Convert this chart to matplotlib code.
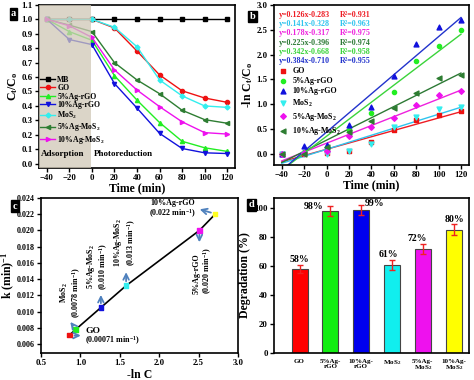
import matplotlib
matplotlib.use('Agg')
import matplotlib.pyplot as plt

plt.rcParams['font.family'] = ['Liberation Serif', 'DejaVu Serif']
plt.rcParams['font.weight'] = 'bold'
plt.rcParams['axes.labelweight'] = 'bold'
plt.rcParams['mathtext.fontset'] = 'custom'
plt.rcParams['mathtext.rm'] = 'Liberation Serif:bold'
plt.rcParams['mathtext.it'] = 'Liberation Serif:italic:bold'
plt.rcParams['mathtext.bf'] = 'Liberation Serif:bold'
plt.rcParams['mathtext.default'] = 'rm'

# ---- data ----
time_min = [-40, -20, 0, 20, 40, 60, 80, 100, 120]

# panel a : Ct/C0
ct_mb = [1.0, 1.0, 1.0, 1.0, 1.0, 1.0, 1.0, 1.0, 1.0]
ct_go = [1.0, 1.0, 1.0, 0.94, 0.78, 0.615, 0.505, 0.455, 0.425]
ct_5ag_rgo = [1.0, 0.915, 0.855, 0.61, 0.44, 0.285, 0.155, 0.11, 0.085]
ct_10ag_rgo = [1.0, 0.86, 0.825, 0.555, 0.385, 0.21, 0.105, 0.075, 0.07]
ct_mos2 = [1.0, 1.0, 1.0, 0.945, 0.81, 0.58, 0.47, 0.40, 0.39]
ct_5ag_mos2 = [1.0, 0.96, 0.915, 0.70, 0.58, 0.485, 0.37, 0.305, 0.28]
ct_10ag_mos2 = [1.0, 0.955, 0.875, 0.65, 0.51, 0.395, 0.29, 0.215, 0.205]

# panel b : -ln Ct/C0 points
ln_go = [0.0, 0.0, 0.02, 0.06, 0.25, 0.49, 0.69, 0.79, 0.86]
ln_5ag_rgo = [0.0, 0.03, 0.15, 0.49, 0.82, 1.25, 1.87, 2.18, 2.49]
ln_10ag_rgo = [0.0, 0.16, 0.19, 0.58, 0.95, 1.56, 2.22, 2.56, 2.70]
ln_mos2 = [0.0, 0.0, 0.0, 0.06, 0.21, 0.54, 0.75, 0.91, 0.94]
ln_5ag_mos2 = [0.0, 0.02, 0.07, 0.36, 0.55, 0.72, 0.98, 1.18, 1.27]
ln_10ag_mos2 = [0.0, 0.0, 0.15, 0.45, 0.67, 0.93, 1.23, 1.53, 1.59]

# linear fits (x = point index 1..9)
fit_slopes = [0.126, 0.141, 0.178, 0.225, 0.342, 0.384]
fit_intercepts = [-0.283, -0.328, -0.317, -0.396, -0.668, -0.710]
fit_r2 = ['0.931', '0.963', '0.975', '0.974', '0.958', '0.955']
fit_colors = ['#ee1c24', '#2fc4ee', '#ee22dd', '#2e7a36', '#3ad43a', '#2233cc']

# panel c
c_lnc = [0.86, 0.94, 1.26, 1.58, 2.51, 2.71]
c_k = [0.0071, 0.0078, 0.0105, 0.0132, 0.020, 0.022]
c_colors = ['#ee1111', '#22ee22', '#1111dd', '#33eeee', '#ee11ee', '#ffff22']

# panel d
d_labels = ['GO', '5%Ag-\nrGO', '10%Ag-\nrGO', 'MoS$_2$', '5%Ag-\nMoS$_2$', '10%Ag-\nMoS$_2$']
d_values = [58, 98, 99, 61, 72, 85]
d_errors = [3, 3.5, 3.5, 3.5, 3.5, 3.7]
d_texts = ['58%', '98%', '99%', '61%', '72%', '80%']
d_colors = ['#ff0000', '#11ee11', '#0000ee', '#11eeee', '#ee11ee', '#ffff00']

RED = '#ee1111'
LIME = '#22ee22'
BLUE = '#1111dd'
CYAN = '#33eeee'
DGREEN = '#2e7d32'
MAG = '#ee11ee'
LABEL_FS = 8.5

fig = plt.figure(figsize=(4.74, 3.80), dpi=100)
ax_a = fig.add_axes([0.0823, 0.558, 0.4135, 0.429])
ax_b = fig.add_axes([0.578, 0.566, 0.411, 0.421])
ax_c = fig.add_axes([0.0865, 0.071, 0.4156, 0.408])
ax_d = fig.add_axes([0.578, 0.071, 0.411, 0.408])

for ax in (ax_a, ax_b, ax_c, ax_d):
    for s in ax.spines.values():
        s.set_linewidth(1.2)
    ax.tick_params(direction='out', length=3, width=1, labelsize=6.3, pad=1.5)


def panel_tag(ax, letter, x, y):
    ax.text(x, y, letter, transform=ax.transAxes, color='white', fontsize=7.5,
            ha='center', va='center', fontweight='bold',
            bbox=dict(boxstyle='square,pad=0.12', fc='black', ec='black'))


# ---- panel a ----
ms = 3
ax_a.plot(time_min, ct_mb, color='black', marker='s', ms=ms, lw=1, label='MB')
ax_a.plot(time_min, ct_go, color=RED, marker='o', ms=ms, lw=1, label='GO')
ax_a.plot(time_min, ct_5ag_rgo, color=LIME, marker='^', ms=ms, lw=1, label='5%Ag-rGO')
ax_a.plot(time_min, ct_10ag_rgo, color=BLUE, marker='v', ms=ms, lw=1, label='10%Ag-rGO')
ax_a.plot(time_min, ct_mos2, color=CYAN, marker='D', ms=2.5, lw=1, label='MoS$_2$')
ax_a.plot(time_min, ct_5ag_mos2, color=DGREEN, marker='<', ms=ms, lw=1, label='5%Ag-MoS$_2$')
ax_a.plot(time_min, ct_10ag_mos2, color=MAG, marker='>', ms=ms, lw=1, label='10%Ag-MoS$_2$')
ax_a.axvspan(-47, -1, color='#d0c8b6', alpha=0.75, zorder=3, lw=0)
ax_a.set_xlim(-47, 127)
ax_a.set_ylim(-0.03, 1.1)
ax_a.set_xticks(range(-40, 121, 20))
ax_a.set_yticks([i / 10 for i in range(12)])
ax_a.set_yticklabels([f'{i / 10:.1f}' for i in range(12)])
ax_a.set_xlabel('Time (min)', fontsize=LABEL_FS, labelpad=0)
ax_a.set_ylabel('C$_\\mathrm{t}$/C$_\\mathrm{o}$', fontsize=LABEL_FS, labelpad=1)
ax_a.text(-45, 0.07, 'Adsorption', fontsize=6.5, va='center', zorder=5)
ax_a.text(2, 0.07, 'Photoreduction', fontsize=6.5, va='center', zorder=5)
ax_a.legend(loc='upper left', bbox_to_anchor=(-0.01, 0.585), frameon=False,
            fontsize=5.6, handlelength=1.9, handletextpad=0.3, labelspacing=0.06,
            borderaxespad=0.2, borderpad=0.2)
panel_tag(ax_a, 'a', -0.13, 0.945)

# ---- panel b ----
ax_b.scatter(time_min, ln_go, color=RED, marker='s', s=9, label='GO', zorder=3)
ax_b.scatter(time_min, ln_5ag_rgo, color=LIME, marker='o', s=9, label='5%Ag-rGO', zorder=3)
ax_b.scatter(time_min, ln_10ag_rgo, color=BLUE, marker='^', s=12, label='10%Ag-rGO', zorder=3)
ax_b.scatter(time_min, ln_mos2, color=CYAN, marker='v', s=12, label='MoS$_2$', zorder=3)
ax_b.scatter(time_min, ln_5ag_mos2, color=MAG, marker='D', s=8, label='5%Ag-MoS$_2$', zorder=3)
ax_b.scatter(time_min, ln_10ag_mos2, color=DGREEN, marker='<', s=12, label='10%Ag-MoS$_2$', zorder=3)

idx = [(t + 60) / 20 for t in time_min]
for m, c, col in zip(fit_slopes, fit_intercepts, fit_colors):
    ax_b.plot(time_min, [m * i + c for i in idx], color=col, lw=1, zorder=2)

for k, (m, c, r2, col) in enumerate(zip(fit_slopes, fit_intercepts, fit_r2, fit_colors)):
    y = 2.8 - k * 0.187
    ax_b.text(-42.5, y, f'y={m:.3f}x{c:.3f}', color=col, fontsize=5.8, va='center')
    ax_b.text(12, y, f'R\u00b2={r2}', color=col, fontsize=5.8, va='center')

ax_b.set_xlim(-47, 127)
ax_b.set_ylim(-0.22, 3.0)
ax_b.set_xticks(range(-40, 121, 20))
ax_b.set_yticks([0.0, 0.5, 1.0, 1.5, 2.0, 2.5, 3.0])
ax_b.set_yticklabels(['0.0', '0.5', '1.0', '1.5', '2.0', '2.5', '3.0'])
ax_b.set_xlabel('Time (min)', fontsize=LABEL_FS, labelpad=0)
ax_b.set_ylabel('-ln C$_\\mathrm{t}$/C$_\\mathrm{o}$', fontsize=LABEL_FS, labelpad=1)
ax_b.legend(loc='upper left', bbox_to_anchor=(-0.01, 0.63), frameon=False,
            fontsize=5.8, handletextpad=0.1, labelspacing=0.25, borderaxespad=0.2,
            borderpad=0.2)
panel_tag(ax_b, 'b', -0.11, 0.927)

# ---- panel c ----
ax_c.plot(c_lnc, c_k, color='black', lw=1.2, zorder=2)
ax_c.scatter(c_lnc, c_k, color=c_colors, marker='s', s=10, zorder=3)

arrow = dict(arrowstyle='->', color='#4f81bd', lw=1.3)
ax_c.annotate('', xy=(1.04, 0.00705), xytext=(0.89, 0.00705), arrowprops=arrow)
ax_c.annotate('', xy=(0.85, 0.0090), xytext=(0.93, 0.0080), arrowprops=arrow)
ax_c.annotate('', xy=(1.26, 0.0124), xytext=(1.26, 0.0107), arrowprops=arrow)
ax_c.annotate('', xy=(1.58, 0.0152), xytext=(1.58, 0.0134), arrowprops=arrow)
ax_c.annotate('', xy=(2.51, 0.0182), xytext=(2.51, 0.0198), arrowprops=arrow)
ax_c.annotate('', xy=(2.48, 0.0227), xytext=(2.69, 0.0221), arrowprops=arrow)

fs_c = 5.8
ax_c.text(1.06, 0.0076, 'GO', fontsize=fs_c + 1, va='center', ha='left')
ax_c.text(1.06, 0.0064, '(0.00071 min$^{-1}$)', fontsize=fs_c, va='center', ha='left')
ax_c.text(0.88, 0.0092, 'MoS$_2$\n(0.0078 min$^{-1}$)', fontsize=fs_c, rotation=90,
          ha='center', va='bottom', linespacing=1.1)
ax_c.text(1.215, 0.0127, '5%Ag-MoS$_2$\n(0.010 min$^{-1}$)', fontsize=fs_c, rotation=90,
          ha='center', va='bottom', linespacing=1.1)
ax_c.text(1.565, 0.0155, '10%Ag-MoS$_2$\n(0.013 min$^{-1}$)', fontsize=fs_c, rotation=90,
          ha='center', va='bottom', linespacing=1.1)
ax_c.text(2.565, 0.0179, '5%Ag-rGO\n(0.020 min$^{-1}$)', fontsize=fs_c, rotation=90,
          ha='center', va='top', linespacing=1.1, multialignment='left')
ax_c.text(2.17, 0.0226, '10%Ag-rGO\n(0.022 min$^{-1}$)', fontsize=fs_c, ha='center',
          va='center', linespacing=1.1)

ax_c.set_xlim(0.5, 3.0)
ax_c.set_ylim(0.0049, 0.024)
ax_c.set_xticks([0.5, 1.0, 1.5, 2.0, 2.5, 3.0])
ax_c.set_xticklabels(['0.5', '1.0', '1.5', '2.0', '2.5', '3.0'])
yt = [0.006 + 0.002 * i for i in range(10)]
ax_c.set_yticks(yt)
ax_c.set_yticklabels([f'{v:.3f}' for v in yt], fontsize=5.8)
ax_c.set_xlabel('-ln C', fontsize=LABEL_FS, labelpad=1)
ax_c.set_ylabel('k (min)$^{-1}$', fontsize=LABEL_FS, labelpad=0)
panel_tag(ax_c, 'c', -0.132, 0.948)

# ---- panel d ----
xpos = list(range(len(d_values)))
ax_d.bar(xpos, d_values, width=0.52, color=d_colors, edgecolor='#444444', lw=0.8)
ax_d.errorbar(xpos, d_values, yerr=d_errors, fmt='none', ecolor='#ee2222',
              elinewidth=1, capsize=2.5, capthick=1)
d_text_x = [0, 0.47, 2.43, 2.89, 3.83, 5.02]
d_text_y = [64.4, 101.4, 103.3, 68, 79, 92]
for x, y, t in zip(d_text_x, d_text_y, d_texts):
    ax_d.text(x, y, t, fontsize=7, ha='center', va='center')
ax_d.set_xlim(-0.83, 5.49)
ax_d.set_ylim(0, 107)
ax_d.set_yticks([0, 20, 40, 60, 80, 100])
ax_d.set_xticks(xpos)
ax_d.set_xticklabels(d_labels, fontsize=5.0, linespacing=1.0)
ax_d.tick_params(axis='x', length=0, pad=4)
ax_d.set_ylabel('Degradation (%)', fontsize=LABEL_FS, labelpad=2)
panel_tag(ax_d, 'd', -0.115, 0.955)

fig.savefig('out.png', dpi=100)
